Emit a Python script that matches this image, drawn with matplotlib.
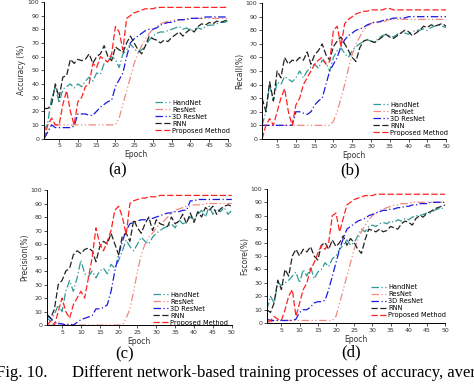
import numpy as np
import matplotlib
matplotlib.use('Agg')
import matplotlib.pyplot as plt

epochs = np.arange(1, 51)
labels = ['HandNet', 'ResNet', '3D ResNet', 'RNN', 'Proposed Method']

# (a) accuracy
acc_hand = [5, 12, 30, 38, 26, 36, 38, 40, 37, 40, 38, 42, 45, 42, 48, 47, 55, 57, 60, 58,
            52, 62, 65, 69, 66, 63, 65, 68, 72, 75, 77, 78, 78, 79, 80, 81, 82, 80, 81, 79,
            80, 81, 80, 82, 83, 83, 84, 85, 85, 86]
acc_res = [0, 5, 10, 10, 10, 10, 10, 10, 10, 10, 10, 10, 10, 10, 10, 10, 10, 10, 10, 10,
           15, 25, 35, 45, 55, 62, 68, 73, 77, 80, 82, 84, 85, 86, 86, 87, 87, 87, 88, 88,
           88, 88, 88, 88, 88, 88, 88, 88, 88, 88]
acc_3d = [0, 5, 10, 8, 8, 8, 8, 8, 9, 18, 18, 18, 17, 17, 20, 23, 25, 27, 28, 38,
          43, 48, 60, 70, 73, 75, 77, 79, 80, 80, 81, 83, 84, 85, 85, 86, 87, 87, 87, 88,
          88, 88, 88, 89, 89, 89, 89, 89, 89, 89]
acc_rnn = [22, 22, 25, 40, 30, 45, 46, 58, 55, 58, 57, 58, 62, 55, 60, 62, 68, 60, 57, 67,
           65, 63, 70, 75, 70, 65, 62, 68, 75, 73, 72, 70, 72, 71, 74, 76, 78, 75, 78, 80,
           78, 82, 84, 83, 85, 84, 86, 85, 86, 87]
acc_prop = [0, 10, 15, 10, 10, 25, 35, 20, 10, 27, 30, 38, 40, 55, 52, 60, 58, 56, 62, 82,
            78, 65, 88, 90, 92, 93, 94, 95, 95, 95, 96, 96, 96, 96, 96, 96, 96, 96, 96, 96,
            96, 96, 96, 96, 96, 96, 96, 96, 96, 96]

# (b) recall
rec_hand = [10, 20, 40, 28, 42, 40, 46, 44, 42, 45, 50, 45, 50, 53, 55, 52, 58, 56, 50, 60,
            65, 67, 63, 60, 65, 68, 70, 72, 73, 72, 71, 74, 76, 77, 76, 75, 77, 78, 78, 77,
            79, 80, 80, 81, 80, 82, 83, 84, 83, 82]
rec_res = [10, 10, 10, 10, 10, 10, 10, 10, 10, 10, 10, 10, 10, 10, 10, 10, 10, 10, 10, 13,
           20, 30, 40, 52, 62, 70, 75, 80, 83, 85, 86, 86, 86, 87, 88, 88, 88, 88, 88, 88,
           88, 88, 88, 88, 88, 88, 88, 88, 88, 88]
rec_3d = [10, 10, 10, 10, 10, 10, 10, 10, 10, 20, 20, 19, 18, 20, 25, 28, 30, 40, 50, 55,
          60, 68, 73, 76, 78, 80, 81, 82, 84, 85, 86, 86, 87, 88, 88, 89, 89, 89, 89, 90,
          90, 90, 90, 90, 90, 90, 90, 90, 90, 90]
rec_rnn = [30, 20, 42, 28, 50, 45, 60, 55, 58, 57, 60, 58, 64, 55, 62, 65, 70, 62, 58, 68,
           72, 75, 70, 65, 60, 57, 67, 72, 73, 72, 71, 73, 75, 77, 75, 74, 76, 78, 80, 79,
           76, 78, 80, 83, 82, 84, 83, 84, 85, 83]
rec_prop = [0, 10, 15, 10, 20, 30, 37, 20, 10, 25, 30, 40, 45, 50, 55, 58, 60, 55, 57, 80,
            83, 68, 85, 88, 90, 92, 93, 94, 94, 95, 95, 95, 95, 96, 96, 95, 95, 95, 95, 95,
            95, 95, 95, 95, 95, 95, 95, 95, 95, 95]

# (c) precision
pre_hand = [5, 3, 8, 15, 10, 25, 33, 25, 35, 48, 38, 36, 40, 35, 40, 42, 38, 45, 42, 48,
            55, 63, 58, 55, 60, 65, 62, 60, 65, 68, 70, 72, 73, 75, 72, 78, 75, 76, 80, 78,
            82, 85, 80, 88, 82, 86, 84, 87, 82, 85]
pre_res = [0, 0, 0, 3, 0, 0, 0, 0, 0, 0, 0, 0, 0, 0, 0, 0, 0, 0, 0, 0,
           0, 5, 12, 25, 40, 52, 60, 65, 68, 72, 75, 77, 80, 83, 85, 86, 87, 88, 88, 89,
           89, 89, 90, 90, 90, 90, 90, 90, 90, 90]
pre_3d = [7, 5, 2, 1, 1, 0, 1, 0, 2, 4, 5, 6, 7, 12, 12, 13, 15, 25, 40, 52,
          62, 70, 75, 76, 77, 78, 78, 79, 79, 80, 81, 82, 83, 83, 84, 84, 85, 85, 92, 92,
          93, 93, 93, 93, 93, 93, 93, 93, 93, 93]
pre_rnn = [8, 5, 12, 30, 33, 40, 42, 52, 55, 53, 56, 57, 55, 47, 58, 62, 60, 68, 60, 52,
           66, 68, 62, 78, 72, 68, 75, 80, 70, 78, 75, 74, 73, 80, 75, 77, 82, 75, 83, 76,
           84, 80, 87, 85, 88, 82, 86, 88, 89, 88]
pre_prop = [0, 3, 0, 10, 20, 10, 5, 15, 20, 25, 20, 35, 50, 72, 60, 55, 62, 70, 85, 88,
            80, 67, 90, 92, 93, 94, 94, 95, 95, 95, 96, 96, 96, 96, 96, 96, 96, 96, 96, 96,
            96, 96, 96, 96, 96, 96, 96, 96, 96, 96]

# (d) f-score
f_hand = [10, 20, 15, 30, 28, 30, 32, 35, 38, 30, 40, 35, 42, 33, 38, 40, 45, 42, 48, 50,
          55, 58, 62, 58, 60, 65, 70, 68, 72, 73, 72, 74, 75, 74, 76, 75, 77, 76, 78, 77,
          79, 80, 80, 81, 82, 82, 84, 85, 86, 84]
f_res = [1, 1, 2, 2, 2, 2, 2, 2, 2, 2, 2, 2, 2, 2, 2, 2, 2, 2, 2, 5,
         15, 25, 35, 45, 55, 62, 68, 73, 77, 80, 82, 84, 85, 86, 87, 88, 88, 89, 89, 89,
         90, 90, 90, 90, 90, 90, 90, 90, 90, 90]
f_3d = [3, 2, 2, 2, 2, 2, 2, 2, 3, 8, 10, 10, 12, 15, 16, 16, 17, 25, 35, 45,
        55, 63, 70, 72, 74, 76, 77, 78, 80, 81, 82, 83, 84, 84, 85, 85, 86, 86, 87, 87,
        88, 88, 89, 89, 89, 90, 90, 90, 90, 90]
f_rnn = [10, 8, 15, 32, 25, 40, 35, 50, 55, 50, 55, 53, 57, 50, 47, 58, 60, 55, 62, 57,
         60, 65, 58, 63, 60, 55, 52, 62, 70, 69, 68, 70, 68, 69, 72, 71, 70, 74, 76, 75,
         73, 78, 80, 79, 82, 83, 85, 86, 87, 88]
f_prop = [1, 2, 5, 3, 2, 10, 20, 25, 5, 15, 25, 30, 40, 45, 52, 58, 55, 60, 80, 82,
          68, 78, 88, 90, 92, 93, 94, 95, 95, 95, 96, 96, 96, 96, 96, 96, 96, 96, 96, 96,
          96, 96, 96, 96, 96, 96, 96, 96, 96, 96]

colors = ['#2f9a96', '#f08a80', '#1a1ae0', '#222222', '#ff2222']
styles = [(0, (6, 2, 1, 2)), (0, (6, 2, 1, 2, 1, 2)), (0, (6, 2, 1, 2)), (0, (5, 2)), (0, (5, 2))]

# rect, data, y label, tag, legend anchor, tag position
panels = [
    ([0.093, 0.642, 0.388, 0.353], [acc_hand, acc_res, acc_3d, acc_rnn, acc_prop],
     'Accuracy (%)', '(a)', (0.60, 0.03), (0.40, -0.23)),
    ([0.553, 0.641, 0.388, 0.351], [rec_hand, rec_res, rec_3d, rec_rnn, rec_prop],
     'Recall(%)', '(b)', (0.60, 0.02), (0.48, -0.23)),
    ([0.099, 0.160, 0.390, 0.349], [pre_hand, pre_res, pre_3d, pre_rnn, pre_prop],
     'Precision(%)', '(c)', (0.57, -0.01), (0.42, -0.215)),
    ([0.563, 0.165, 0.376, 0.347], [f_hand, f_res, f_3d, f_rnn, f_prop],
     'Fscore(%)', '(d)', (0.58, 0.03), (0.47, -0.215)),
]

fig = plt.figure(figsize=(4.74, 3.87), dpi=100)

for rect, series, ylab, tag, legpos, tagpos in panels:
    ax = fig.add_axes(rect)
    for vals, lab, c, ls in zip(series, labels, colors, styles):
        ax.plot(epochs, vals, color=c, linestyle=ls, linewidth=0.9, label=lab)
    ax.set_xlim(1, 50)
    ax.set_ylim(0, 100)
    ax.set_xticks(range(5, 51, 5))
    ax.set_yticks(range(0, 101, 10))
    ax.tick_params(labelsize=4.5, length=2, width=0.6, pad=1.5, colors='#333333')
    for s in ['top', 'right']:
        ax.spines[s].set_visible(False)
    for s in ['left', 'bottom']:
        ax.spines[s].set_linewidth(0.7)
    ax.set_ylabel(ylab, fontsize=5.5, labelpad=1, color='#333333')
    ax.set_xlabel('Epoch', fontsize=5.5, labelpad=1.5, color='#333333')
    ax.legend(loc='lower left', bbox_to_anchor=legpos, fontsize=4.8, frameon=False,
              handlelength=2.2, handletextpad=0.4, labelspacing=0.15, borderpad=0.1,
              borderaxespad=0)
    ax.text(tagpos[0], tagpos[1], tag, transform=ax.transAxes, ha='center', va='center',
            fontsize=12, family='Liberation Serif')

fig.text(47 / 474, 1 - 373 / 387, 'Fig. 10.', fontsize=12, family='Liberation Serif',
         ha='right', va='center')
fig.text(72 / 474, 1 - 373 / 387, 'Different network-based training processes of accuracy, average',
         fontsize=12, family='Liberation Serif', ha='left', va='center')

fig.savefig('out.png', dpi=100)
